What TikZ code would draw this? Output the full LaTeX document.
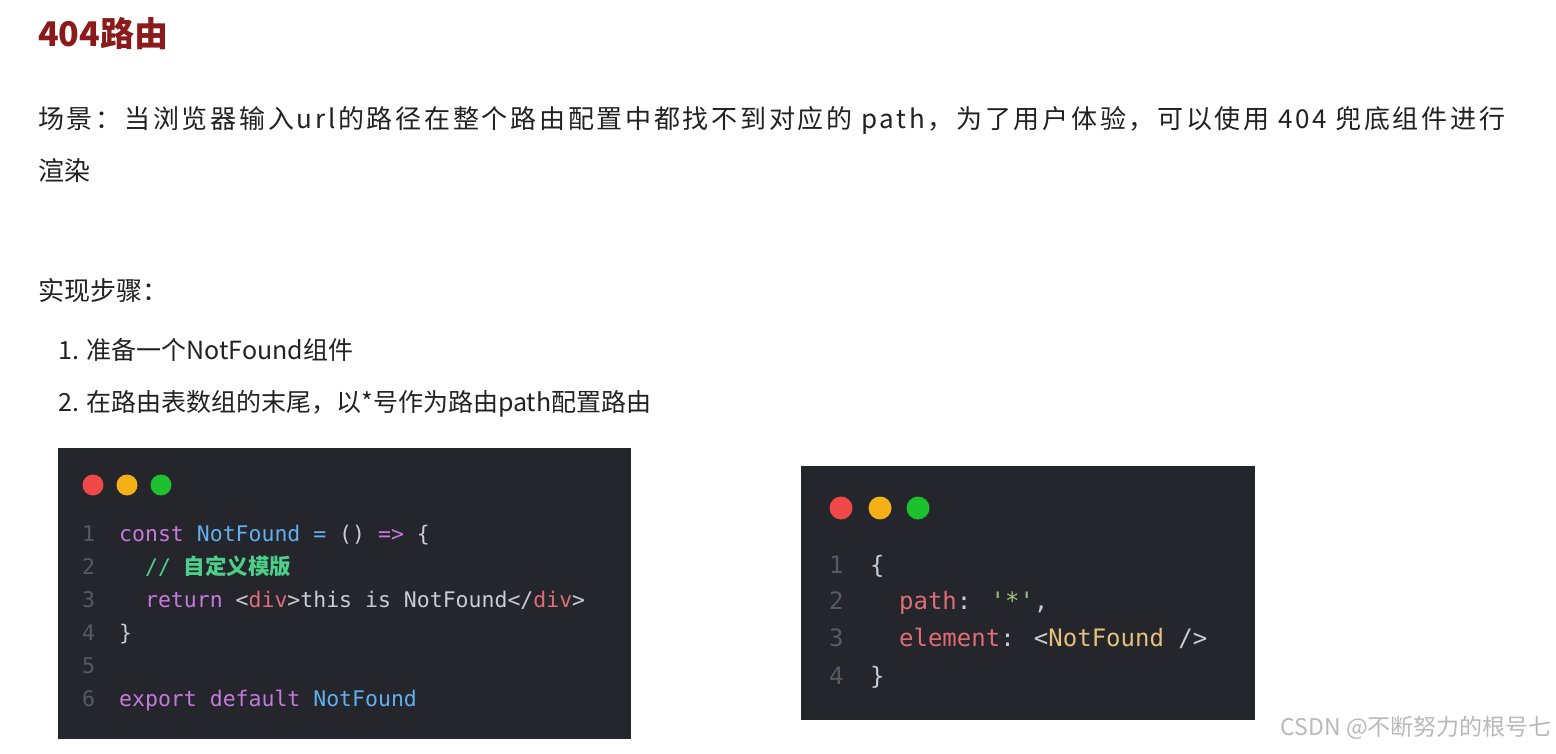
\documentclass[tikz,border=0pt]{standalone}
\usepackage{fontspec}
\setmainfont{Noto Sans CJK SC}
\newfontfamily\cjk{Noto Sans CJK SC}
\newfontfamily\cjkwide[LetterSpace=10.5]{Noto Sans CJK SC}
\newfontfamily\codef{DejaVu Sans Mono}
\definecolor{bgc}{HTML}{24262C}
\definecolor{kw}{HTML}{C678DD}
\definecolor{bl}{HTML}{61AFEF}
\definecolor{cm}{HTML}{4CD08A}
\definecolor{rd}{HTML}{E06C75}
\definecolor{yl}{HTML}{E5C07B}
\definecolor{tx}{HTML}{C8CCD4}
\definecolor{ln}{HTML}{555A64}
\definecolor{gr}{HTML}{98C379}
\definecolor{ttl}{HTML}{8B1A1A}
\definecolor{bodyc}{HTML}{222222}
\definecolor{dr}{HTML}{F04848}
\definecolor{dy}{HTML}{F5B015}
\definecolor{dg}{HTML}{1DC12D}
\begin{document}
\begin{tikzpicture}[x=1pt,y=-1pt,
 body/.style={anchor=base west,inner sep=0pt,font=\fontsize{26}{30}\selectfont\cjk,text=bodyc},
 item/.style={body,font=\fontsize{25}{30}\selectfont\cjk},
 code/.style={anchor=base west,inner sep=0pt,font=\fontsize{21.5}{26}\selectfont\codef,text=tx},
 codeb/.style={code,font=\fontsize{24}{28}\selectfont\codef},
 lnum/.style={anchor=base west,inner sep=0pt,font=\fontsize{21.5}{26}\selectfont\codef,text=ln},
 lnumb/.style={lnum,font=\fontsize{24}{28}\selectfont\codef},
 win/.style={fill=bgc,draw=none}]
\useasboundingbox (0,0) rectangle (1556,754);
\fill[white] (0,0) rectangle (1556,754);
\node[body,font=\fontsize{34}{38}\selectfont\cjk\bfseries,text=ttl] (t) at (38,47) {404路由};
\node[body,font=\fontsize{26}{30}\selectfont\cjkwide] (p1) at (38,129) {场景：当浏览器输入url的路径在整个路由配置中都找不到对应的 path，为了用户体验，可以使用 404 兜底组件进行};
\node[body] (p2) at (38,181) {渲染};
\node[body] (s) at (38,300) {实现步骤：};
\node[item] (i1) at (58,359) {1. 准备一个NotFound组件};
\node[item] (i2) at (58,411) {2. 在路由表数组的末尾，以*号作为路由path配置路由};
% window 1
\fill[win] (58,448) rectangle (631,739);
\fill[dr] (93,485) circle (10.5);
\fill[dy] (127,485) circle (10.5);
\fill[dg] (161,485) circle (10.5);
\foreach \n/\y in {1/541,2/574,3/607,4/640,5/673,6/706}{\node[lnum] (a\n) at (82,\y) {\n};}
\node[code] (c1) at (119,541) {\textcolor{kw}{const} \textcolor{bl}{NotFound} \textcolor{bl}{=} () \textcolor{kw}{=>} \{};
\node[code] (c2) at (119,574) {\textcolor{cm}{\ \ // {\cjk\bfseries 自定义模版}}};
\node[code] (c3) at (119,607) {\ \ \textcolor{kw}{return} <\textcolor{rd}{div}>this is NotFound</\textcolor{rd}{div}>};
\node[code] (c4) at (119,640) {\}};
\node[code] (c6) at (119,706) {\textcolor{kw}{export} \textcolor{kw}{default} \textcolor{bl}{NotFound}};
% window 2
\fill[win] (801,466) rectangle (1255,720);
\fill[dr] (841,508) circle (11.5);
\fill[dy] (880,508) circle (11.5);
\fill[dg] (918,508) circle (11.5);
\foreach \n/\y in {1/573,2/609,3/646,4/684}{\node[lnumb] (b\n) at (829,\y) {\n};}
\node[codeb] (d1) at (870,573) {\{};
\node[codeb] (d2) at (870,609) {\ \ \textcolor{rd}{path}: \textcolor{gr}{'*'},};
\node[codeb] (d3) at (870,646) {\ \ \textcolor{rd}{element}: <\textcolor{yl}{NotFound} />};
\node[codeb] (d4) at (870,684) {\}};
\node[anchor=base east,inner sep=0pt,font=\fontsize{23}{26}\selectfont\cjk,text=gray!55] (wm) at (1552,735) {CSDN @不断努力的根号七};
\end{tikzpicture}
\end{document}
